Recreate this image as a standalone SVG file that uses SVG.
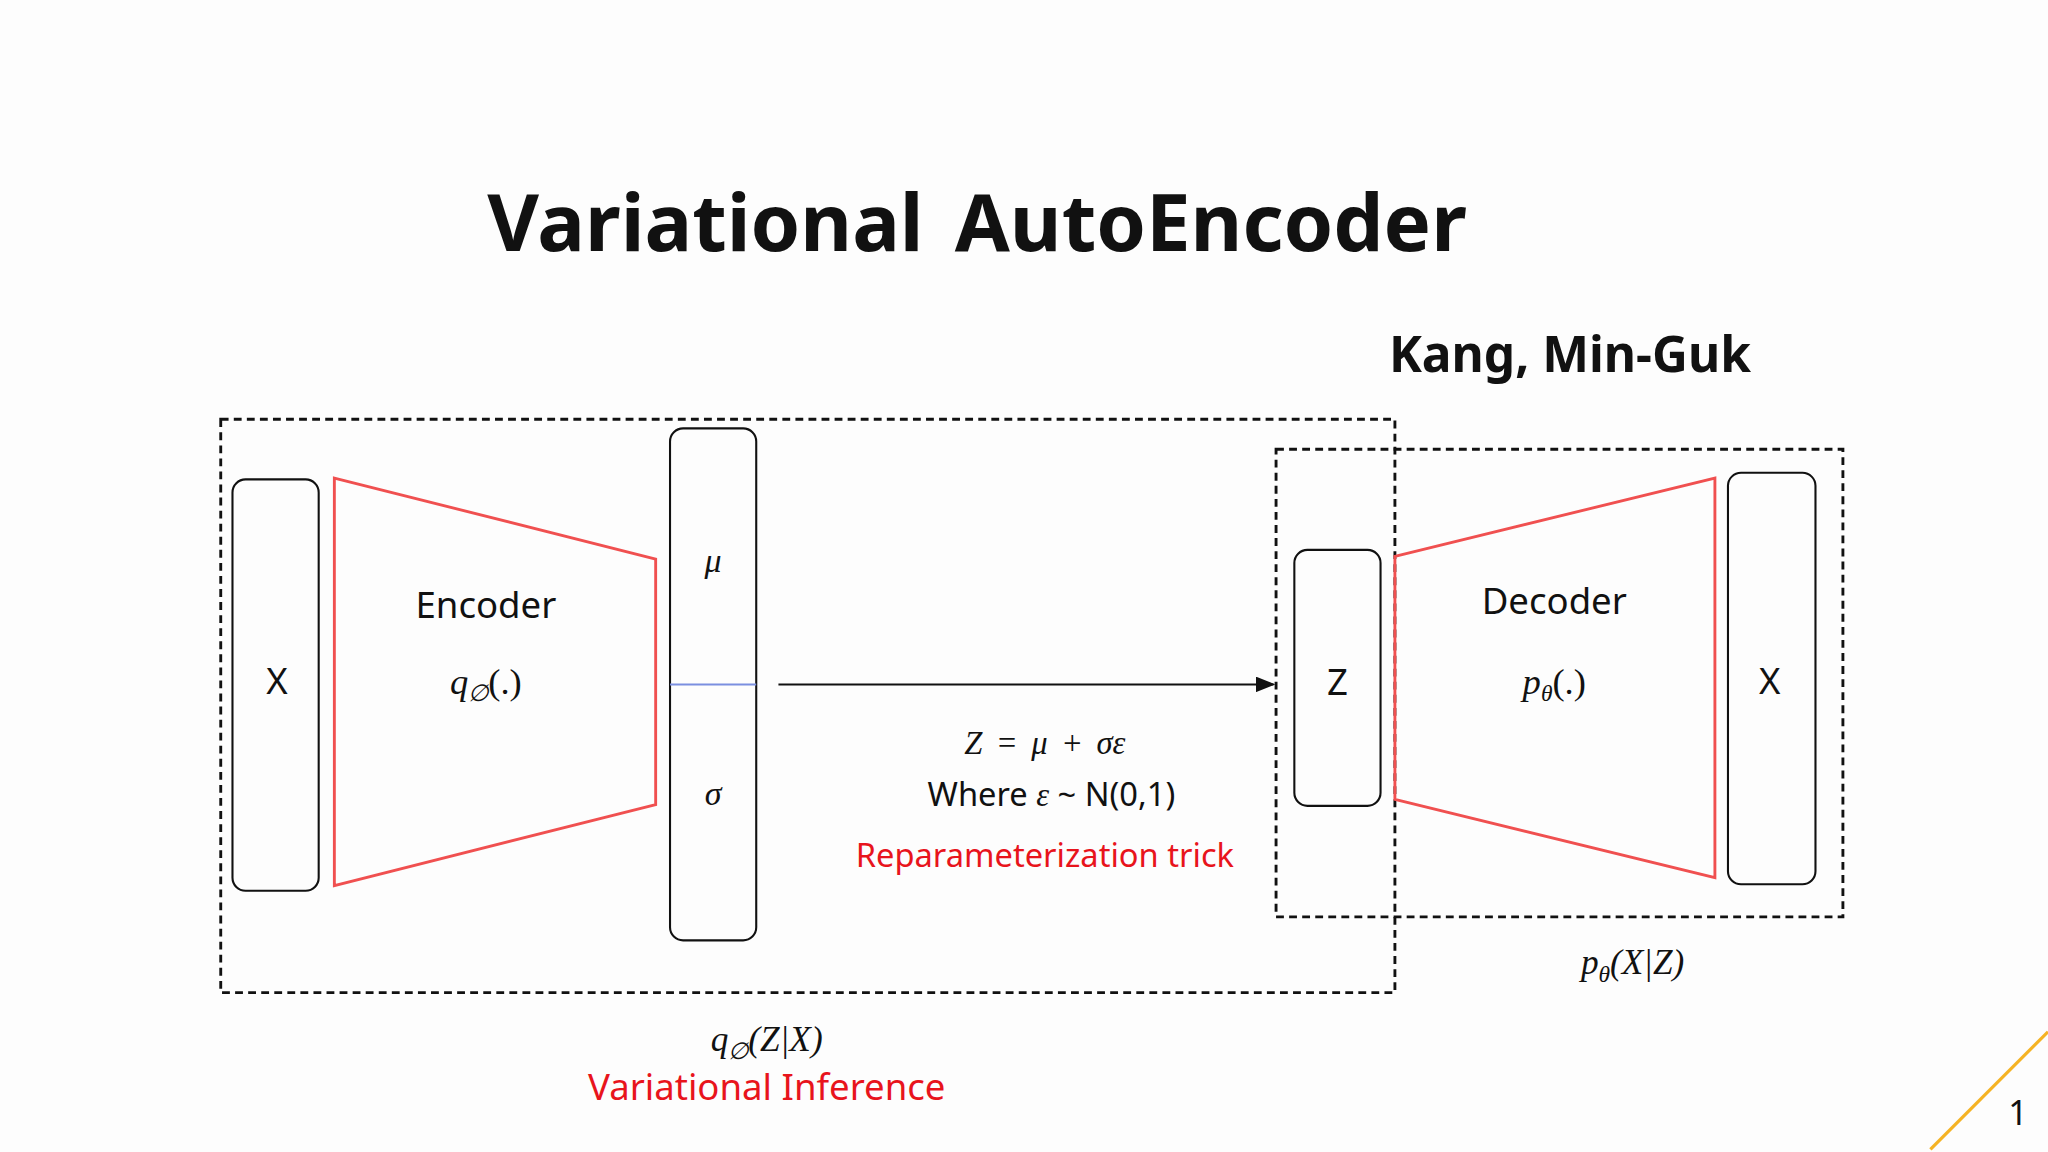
<svg xmlns="http://www.w3.org/2000/svg" width="2048" height="1152" viewBox="0 0 2048 1152">
<style>
text{font-family:"Noto Sans","Liberation Sans",sans-serif;fill:#111;text-anchor:middle}
.m{font-family:"Liberation Serif",serif;font-style:italic}
.red{fill:#e8141c}
.box{fill:none;stroke:#111;stroke-width:1.6}
.dash{fill:none;stroke:#111;stroke-width:2.2;stroke-dasharray:6 4}
.trap{fill:none;stroke:#f05050;stroke-width:2.2}
</style>
<defs><marker id="ah" markerWidth="10" markerHeight="8" refX="9" refY="4" orient="auto"><path d="M0,0L10,4L0,8z" fill="#111"/></marker></defs>
<rect width="2048" height="1152" fill="#fdfdfd"/>
<g transform="scale(1.3061)">
<text x="748" y="192" font-size="61" font-weight="bold" word-spacing="8">Variational AutoEncoder</text>
<text x="1202" y="285" font-size="38" font-weight="bold">Kang, Min-Guk</text>
<rect class="dash" x="169" y="321" width="899" height="439"/>
<rect class="dash" x="977" y="344" width="434" height="358"/>
<g id="xin"><rect class="box" x="178" y="367" width="66" height="315" rx="10"/><text x="212" y="531" font-size="28">X</text></g>
<g id="encoder"><path class="trap" d="M256,366L502,428L502,616L256,678Z"/><text x="372" y="473" font-size="28">Encoder</text><text class="m" x="372" y="531" font-size="28">q<tspan font-size="18" dy="6">∅</tspan><tspan dy="-6" font-style="normal">(.)</tspan></text></g>
<g id="musigma"><rect class="box" x="513" y="328" width="66" height="392" rx="10"/><line x1="513" y1="524" x2="579" y2="524" stroke="#7b8fe0" stroke-width="1.5"/><text class="m" x="546" y="438" font-size="26">μ</text><text class="m" x="546" y="616" font-size="26">σ</text></g>
<g id="z"><rect class="box" x="991" y="421" width="66" height="196" rx="10"/><text x="1024" y="532" font-size="28">Z</text></g>
<g id="decoder"><path class="trap" d="M1068,426L1313,366L1313,672L1068,612Z"/><text x="1190" y="470" font-size="28">Decoder</text><text class="m" x="1190" y="531" font-size="28">p<tspan font-size="18" dy="6">θ</tspan><tspan dy="-6" font-style="normal">(.)</tspan></text></g>
<g id="xout"><rect class="box" x="1323" y="362" width="67" height="315" rx="10"/><text x="1355" y="531" font-size="28">X</text></g>
<g id="connectors"><line x1="596" y1="524" x2="975" y2="524" stroke="#111" stroke-width="1.5" marker-end="url(#ah)"/></g>
<text class="m" x="800" y="577" font-size="25" word-spacing="4">Z = μ + σε</text>
<text x="805" y="617" font-size="25">Where <tspan class="m">ε</tspan> ~ N(0,1)</text>
<text class="red" x="800" y="664" font-size="25">Reparameterization trick</text>
<text class="m" x="1250" y="746" font-size="27">p<tspan font-size="18" dy="6">θ</tspan><tspan dy="-6">(X|Z)</tspan></text>
<text class="m" x="587" y="805" font-size="27">q<tspan font-size="18" dy="6">∅</tspan><tspan dy="-6">(Z|X)</tspan></text>
<text class="red" x="587" y="842" font-size="28">Variational Inference</text>
<line x1="1478" y1="880" x2="1568" y2="790" stroke="#f5b324" stroke-width="2.5"/>
<text x="1545" y="861" font-size="26">1</text>
</g>
</svg>
